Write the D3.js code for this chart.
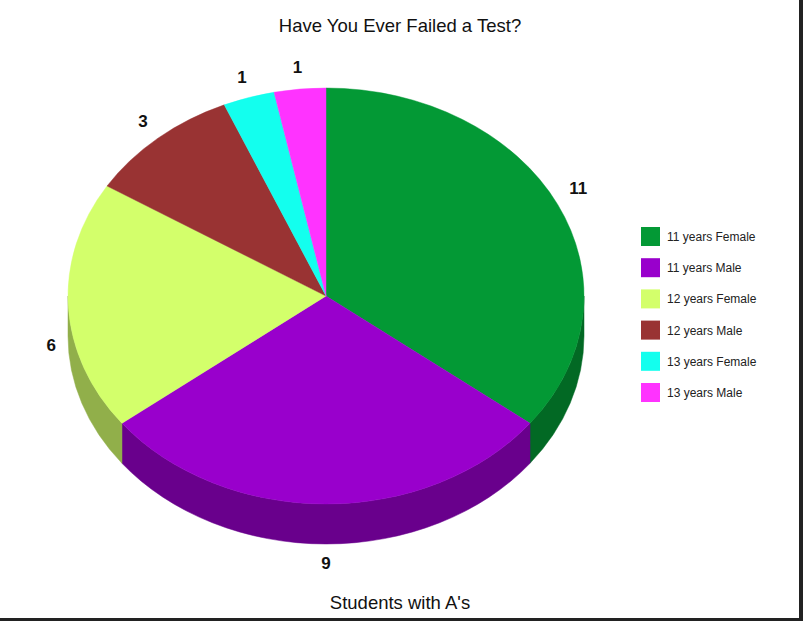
<!DOCTYPE html>
<html>
<head>
<meta charset="utf-8">
<script src="https://cdn.jsdelivr.net/npm/d3@7"></script>
<style>
  html, body { margin: 0; padding: 0; background: #222; }
  svg { display: block; }
</style>
</head>
<body>
<svg class="pie_svg"></svg>
<script>
// chart data
var categories = ["11 years Female", "11 years Male", "12 years Female", "12 years Male", "13 years Female", "13 years Male"]
var values = [11, 9, 6, 3, 1, 1]
var colors = ["#039935", "#9900CC", "#D3FF6B", "#993333", "#13FFEE", "#FF33FF"]
var title = "Have You Ever Failed a Test?"
var subtitle = "Students with A's"

var W = 803, H = 621
var cx = 326, cy = 296, rx = 258, ry = 208, depth = 40

var svg = d3.select(".pie_svg").attr("width", W).attr("height", H)
svg.append("rect").attr("width", 799).attr("height", 618).style("fill", "#fff")

var pie = d3.pie().sort(null).value(d => d)
var slices = pie(values)

// point on the top ellipse, angle clockwise from 12 o'clock
function pt(a, dy) {
    return [cx + rx * Math.sin(a), cy - ry * Math.cos(a) + (dy || 0)]
}

// Side walls (only the front half, between 90 and 270 degrees)
var g_side = svg.append("g")
slices.forEach((s, i) => {
    var a0 = Math.max(s.startAngle, Math.PI / 2)
    var a1 = Math.min(s.endAngle, Math.PI * 1.5)
    if (a1 <= a0) return
    var p0 = pt(a0), p1 = pt(a1), q1 = pt(a1, depth), q0 = pt(a0, depth)
    var large = (a1 - a0) > Math.PI ? 1 : 0
    var path = `M${p0[0]},${p0[1]} A${rx},${ry} 0 ${large} 1 ${p1[0]},${p1[1]}` +
        ` L${q1[0]},${q1[1]} A${rx},${ry} 0 ${large} 0 ${q0[0]},${q0[1]} Z`
    g_side.append("path").attr("d", path)
        .style("fill", d3.color(colors[i]).darker(1.05))
        .style("stroke", d3.color(colors[i]).darker(1.05)).style("stroke-width", 0.5)
})

// Top face drawn with d3.arc in a vertically squashed group
var arc = d3.arc().innerRadius(0).outerRadius(rx)
svg.append("g")
    .attr("transform", `translate(${cx}, ${cy}) scale(1, ${ry / rx})`)
    .selectAll(".slice").data(slices).join("path")
    .attr("class", "slice")
    .attr("d", arc)
    .style("fill", (d, i) => colors[i])
    .style("stroke", (d, i) => colors[i]).style("stroke-width", 0.5)

// Value labels
svg.selectAll(".val_label").data(slices).join("text")
    .attr("class", "val_label")
    .attr("x", d => {
        var a = (d.startAngle + d.endAngle) / 2
        var off = Math.sin(a) < -0.9 ? 17 : 23
        return cx + (rx + off) * Math.sin(a)
    })
    .attr("y", d => {
        var a = (d.startAngle + d.endAngle) / 2
        var y = cy - (ry + 22) * Math.cos(a)
        if (Math.cos(a) < 0) y += depth - 3
        if (Math.sin(a) > 0.5 && Math.cos(a) > 0) y -= 7
        return y + 6
    })
    .attr("text-anchor", "middle")
    .style("font-family", "'Liberation Sans', Arial, sans-serif")
    .style("font-size", "17px")
    .style("font-weight", "bold")
    .style("fill", "#111")
    .text(d => d.data)

// Titles
svg.append("text").attr("x", 400).attr("y", 32)
    .attr("text-anchor", "middle")
    .style("font-family", "'Liberation Sans', Arial, sans-serif")
    .style("font-size", "18.5px").style("fill", "#111")
    .text(title)

svg.append("text").attr("x", 400).attr("y", 609)
    .attr("text-anchor", "middle")
    .style("font-family", "'Liberation Sans', Arial, sans-serif")
    .style("font-size", "18.5px").style("fill", "#111")
    .text(subtitle)

// Legend
var legend = svg.append("g").attr("transform", "translate(641, 227)")
var rows = legend.selectAll(".legend_row").data(categories).join("g")
    .attr("class", "legend_row")
    .attr("transform", (d, i) => `translate(0, ${i * 31.2})`)
rows.append("rect").attr("width", 19).attr("height", 19)
    .style("fill", (d, i) => colors[i])
rows.append("text").attr("x", 26).attr("y", 14)
    .style("font-family", "'Liberation Sans', Arial, sans-serif")
    .style("font-size", "12px").style("fill", "#222")
    .text(d => d)
</script>
</body>
</html>
